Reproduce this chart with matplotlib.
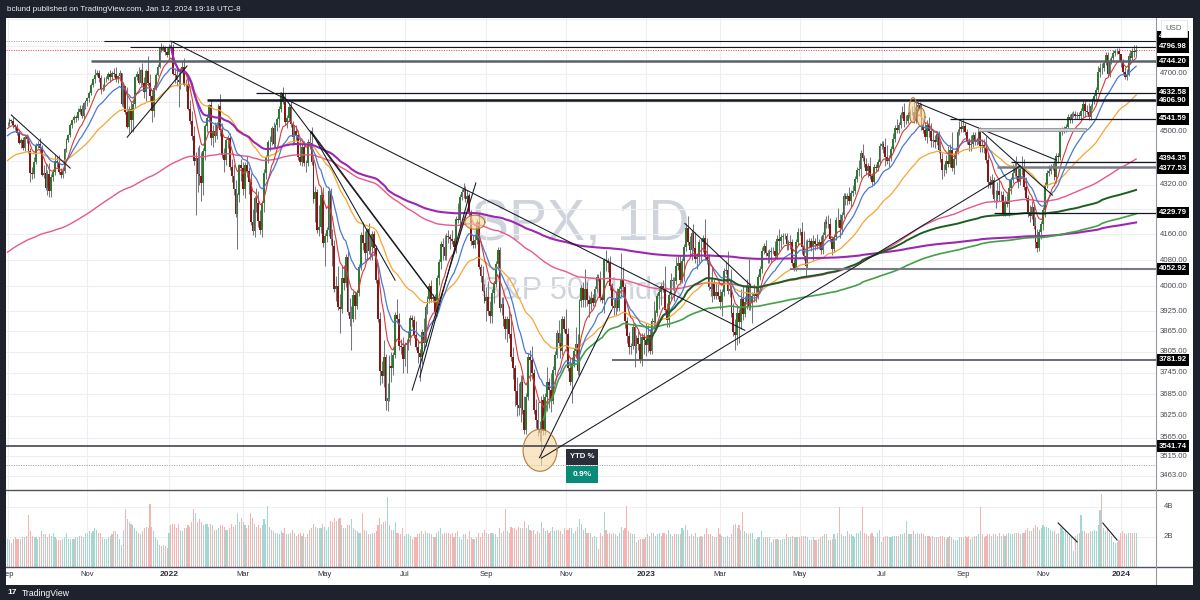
import numpy as np
import matplotlib.pyplot as plt
from matplotlib.patches import Rectangle
from matplotlib.ticker import FixedLocator, NullLocator
from matplotlib.transforms import offset_copy

plt.rcParams['font.family'] = ['Liberation Sans', 'DejaVu Sans']

# SPX daily closes, one row per month (Sep 2021 .. Jan 12 2024)
close_2021 = [
    4524, 4537, 4535, 4520, 4514, 4493, 4459, 4469, 4443, 4481, 4473, 4433, 4358, 4355, 4395, 4449, 4455, 4443, 4353, 4360, 4308,
    4357, 4300, 4346, 4363, 4400, 4391, 4361, 4351, 4364, 4438, 4471, 4486, 4520, 4537, 4549, 4545, 4567, 4575, 4551, 4597, 4605,
    4614, 4631, 4660, 4680, 4697, 4702, 4686, 4647, 4650, 4683, 4683, 4701, 4689, 4704, 4698, 4683, 4691, 4702, 4595, 4655, 4567,
    4513, 4577, 4538, 4592, 4687, 4701, 4668, 4712, 4669, 4635, 4710, 4669, 4621, 4568, 4649, 4697, 4726, 4792, 4786, 4793, 4778, 4766,
]
close_2022 = [
    4797, 4794, 4701, 4696, 4677, 4670, 4713, 4726, 4659, 4663, 4577, 4533, 4483, 4398, 4410, 4357, 4350, 4327, 4432, 4516,
    4546, 4589, 4477, 4501, 4484, 4522, 4587, 4504, 4419, 4402, 4471, 4475, 4380, 4349, 4305, 4226, 4288, 4385, 4374,
    4306, 4387, 4364, 4329, 4201, 4171, 4278, 4260, 4204, 4173, 4262, 4358, 4412, 4463, 4461, 4512, 4456, 4520, 4543, 4576, 4632, 4602, 4530,
    4546, 4583, 4525, 4481, 4500, 4488, 4413, 4397, 4447, 4392, 4391, 4462, 4460, 4394, 4272, 4296, 4175, 4184, 4288, 4132,
    4155, 4175, 4300, 4147, 4123, 3991, 4001, 3936, 3930, 4024, 4008, 4089, 3923, 3901, 3901, 3974, 3941, 3979, 4058, 4158, 4132,
    4101, 4177, 4109, 4121, 4161, 4116, 4018, 3901, 3750, 3735, 3790, 3667, 3675, 3765, 3760, 3796, 3912, 3900, 3821, 3819, 3785,
    3825, 3831, 3845, 3903, 3899, 3855, 3819, 3802, 3790, 3863, 3831, 3937, 3960, 3999, 3962, 3967, 3921, 4024, 4073, 4130,
    4119, 4091, 4155, 4152, 4145, 4140, 4122, 4210, 4207, 4280, 4297, 4305, 4274, 4284, 4228, 4138, 4128, 4141, 4199, 4058, 4031, 3986, 3955,
    3967, 3924, 3909, 3980, 4006, 4067, 4110, 3933, 3946, 3901, 3873, 3900, 3856, 3790, 3758, 3693, 3655, 3647, 3720, 3640, 3586,
    3678, 3791, 3783, 3745, 3640, 3612, 3589, 3577, 3669, 3583, 3677, 3720, 3695, 3666, 3753, 3797, 3859, 3831, 3807, 3901, 3872,
    3856, 3760, 3720, 3771, 3807, 3828, 3749, 3956, 3993, 3957, 3992, 3959, 3947, 3965, 3950, 3991, 4027, 4026, 3964, 3958, 4080,
    4077, 4072, 3999, 3941, 3933, 3964, 3934, 3991, 4019, 3996, 3896, 3852, 3818, 3822, 3879, 3822, 3845, 3829, 3783, 3849, 3840,
]
close_2023 = [
    3824, 3853, 3808, 3895, 3893, 3919, 3970, 3983, 3999, 3991, 3929, 3899, 3972, 4019, 4017, 4016, 4060, 4071, 4018, 4077,
    4119, 4180, 4136, 4111, 4164, 4118, 4082, 4090, 4137, 4136, 4148, 4090, 4079, 3997, 3991, 4012, 3970, 3982, 3970,
    3951, 3981, 4046, 4048, 3986, 3992, 3918, 3862, 3855, 3920, 3892, 3960, 3917, 3951, 4002, 3937, 3948, 3971, 3977, 3971, 4028, 4051, 4109,
    4124, 4101, 4091, 4105, 4109, 4108, 4092, 4147, 4138, 4151, 4155, 4155, 4130, 4133, 4137, 4072, 4056, 4136, 4169,
    4168, 4120, 4091, 4061, 4136, 4138, 4119, 4138, 4130, 4124, 4136, 4110, 4158, 4198, 4192, 4193, 4146, 4115, 4151, 4205, 4206, 4180,
    4221, 4282, 4273, 4284, 4268, 4294, 4299, 4338, 4369, 4373, 4426, 4410, 4389, 4366, 4381, 4348, 4328, 4378, 4376, 4397, 4450,
    4456, 4447, 4412, 4399, 4410, 4439, 4472, 4510, 4505, 4522, 4555, 4566, 4535, 4536, 4554, 4567, 4566, 4537, 4582, 4589,
    4577, 4513, 4502, 4478, 4519, 4499, 4467, 4468, 4464, 4489, 4437, 4404, 4370, 4370, 4399, 4388, 4436, 4376, 4406, 4433, 4498, 4515, 4508,
    4516, 4497, 4465, 4451, 4457, 4487, 4462, 4467, 4505, 4450, 4454, 4444, 4402, 4330, 4320, 4337, 4274, 4274, 4300, 4288,
    4288, 4229, 4263, 4258, 4309, 4336, 4358, 4377, 4349, 4328, 4373, 4374, 4314, 4278, 4224, 4218, 4248, 4186, 4137, 4117, 4167, 4194,
    4237, 4318, 4358, 4366, 4378, 4383, 4347, 4415, 4411, 4496, 4503, 4508, 4514, 4547, 4538, 4557, 4559, 4550, 4555, 4551, 4568,
    4595, 4569, 4567, 4549, 4585, 4604, 4622, 4644, 4707, 4720, 4719, 4740, 4768, 4698, 4746, 4755, 4775, 4781, 4783, 4770,
]
close_2024 = [4743, 4705, 4689, 4697, 4764, 4756, 4783, 4780, 4784]
prev_close = 4523  # Aug 31 2021, first open

# wick above / below the candle body (points)
up_2021 = [
    6, 8, 5, 12, 4, 10, 15, 7, 12, 6, 9, 14, 8, 22, 18, 9, 12, 20, 10, 25, 30,
    12, 35, 10, 8, 22, 15, 28, 16, 12, 5, 6, 4, 8, 6, 5, 6, 12, 15, 14, 4, 3,
    5, 8, 6, 5, 21, 12, 10, 8, 12, 4, 8, 5, 14, 6, 16, 25, 6, 10, 0, 17, 0,
    86, 8, 28, 16, 5, 8, 24, 4, 25, 18, 6, 55, 30, 20, 10, 6, 10, 4, 18, 12, 8, 20,
]
dn_2021 = [
    5, 8, 6, 10, 12, 6, 4, 18, 9, 10, 15, 6, 28, 15, 12, 6, 8, 18, 4, 10, 5,
    22, 21, 20, 15, 10, 12, 6, 10, 8, 6, 8, 10, 5, 8, 10, 14, 6, 8, 5, 10, 20,
    18, 12, 6, 8, 12, 6, 15, 18, 8, 6, 12, 6, 18, 12, 8, 12, 16, 8, 9, 12, 7,
    3, 18, 42, 40, 12, 10, 5, 10, 8, 20, 30, 12, 18, 37, 20, 5, 5, 6, 6, 5, 12, 6,
]
up_2022 = [
    10, 22, 12, 20, 25, 30, 8, 20, 30, 18, 32, 30, 35, 35, 20, 35, 96, 78, 10, 8,
    10, 6, 20, 18, 30, 6, 8, 40, 25, 25, 4, 10, 20, 25, 40, 30, 6, 5, 20,
    20, 10, 30, 15, 30, 40, 6, 30, 40, 35, 6, 15, 6, 5, 20, 5, 20, 5, 6, 10, 5, 20, 30,
    10, 10, 20, 10, 20, 20, 15, 60, 10, 20, 10, 10, 40, 53, 10, 20, 10, 70, 20, 25,
    10, 10, 8, 8, 30, 20, 30, 60, 40, 40, 40, 10, 20, 40, 40, 10, 10, 10, 10, 10, 40,
    40, 5, 20, 40, 10, 10, 10, 10, 20, 30, 50, 10, 40, 30, 40, 10, 10, 50, 20, 20, 30,
    10, 10, 20, 10, 10, 10, 40, 20, 10, 10, 40, 10, 10, 10, 20, 10, 10, 10, 10, 10,
    20, 40, 10, 20, 10, 30, 10, 10, 50, 10, 10, 20, 10, 20, 10, 10, 20, 20, 10, 30, 10, 30, 20,
    30, 50, 30, 10, 10, 10, 10, 10, 20, 20, 10, 10, 40, 60, 30, 10, 40, 60, 20, 20, 40,
    10, 10, 20, 40, 10, 30, 50, 20, 10, 17, 10, 42, 10, 50, 10, 10, 10, 40, 30, 10, 10,
    60, 20, 30, 20, 10, 50, 30, 5, 10, 20, 60, 20, 10, 20, 10, 10, 10, 10, 20, 10, 5,
    30, 10, 20, 10, 20, 20, 30, 10, 82, 40, 10, 10, 10, 10, 10, 10, 10, 20, 30, 10, 10,
]
dn_2022 = [
    12, 12, 4, 30, 20, 88, 25, 10, 4, 20, 5, 10, 12, 12, 176, 60, 30, 60, 40, 30,
    20, 15, 25, 30, 20, 10, 5, 20, 10, 40, 15, 30, 10, 20, 18, 10, 111, 25, 40,
    20, 30, 20, 40, 10, 14, 20, 30, 20, 12, 20, 30, 20, 20, 30, 10, 10, 15, 20, 30, 10, 10, 10,
    20, 10, 10, 30, 25, 20, 10, 10, 15, 10, 30, 10, 20, 10, 10, 72, 10, 20, 20, 10,
    70, 20, 20, 20, 60, 10, 37, 8, 71, 10, 20, 10, 10, 20, 91, 10, 40, 10, 10, 10, 20,
    20, 20, 10, 30, 40, 20, 10, 10, 40, 20, 30, 27, 30, 10, 40, 20, 10, 10, 10, 20, 40,
    20, 81, 20, 20, 20, 10, 10, 30, 68, 20, 20, 10, 20, 10, 10, 10, 10, 10, 20, 20,
    40, 10, 10, 20, 30, 10, 10, 20, 10, 20, 10, 20, 10, 10, 10, 10, 10, 10, 10, 5, 20, 5, 5,
    60, 10, 20, 20, 30, 10, 10, 10, 20, 20, 30, 40, 10, 10, 30, 40, 30, 20, 40, 10, 10,
    10, 10, 60, 10, 10, 20, 20, 20, 86, 10, 10, 40, 50, 30, 9, 13, 10, 10, 20, 10, 10,
    40, 10, 10, 60, 10, 20, 10, 10, 20, 20, 20, 20, 40, 20, 10, 10, 10, 10, 10, 10, 40,
    30, 30, 10, 10, 20, 20, 10, 10, 20, 30, 20, 20, 20, 20, 10, 60, 20, 20, 10, 20, 40,
]
up_2023 = [
    50, 30, 20, 10, 60, 10, 10, 10, 10, 20, 70, 20, 10, 20, 10, 10, 30, 20, 20, 10,
    10, 15, 40, 20, 10, 30, 50, 10, 10, 10, 10, 60, 60, 20, 30, 50, 10, 30, 30,
    20, 10, 10, 30, 60, 30, 60, 30, 40, 20, 10, 30, 40, 20, 20, 80, 60, 10, 30, 20, 10, 10, 10,
    10, 20, 10, 10, 10, 10, 30, 10, 30, 10, 10, 10, 10, 10, 20, 10, 10, 10, 10,
    10, 30, 50, 50, 10, 10, 10, 20, 10, 30, 10, 20, 10, 10, 20, 30, 20, 10, 10, 10, 40, 20,
    10, 10, 10, 10, 30, 10, 20, 10, 10, 30, 10, 30, 10, 20, 10, 30, 10, 10, 10, 10, 10,
    10, 10, 30, 40, 10, 10, 20, 10, 30, 10, 10, 20, 30, 20, 10, 10, 20, 41, 10, 10,
    10, 20, 30, 30, 20, 30, 30, 40, 20, 10, 10, 30, 20, 20, 20, 50, 20, 60, 20, 10, 10, 20, 20,
    30, 10, 10, 10, 30, 10, 10, 10, 10, 10, 20, 20, 40, 20, 20, 20, 10, 30, 30, 40,
    10, 10, 20, 30, 30, 10, 30, 20, 40, 40, 10, 40, 30, 30, 10, 30, 20, 10, 30, 40, 10, 10,
    10, 10, 10, 20, 10, 10, 20, 10, 10, 10, 10, 10, 10, 10, 10, 10, 10, 10, 10, 10, 10,
    10, 10, 20, 30, 10, 10, 10, 10, 20, 20, 20, 10, 10, 10, 10, 10, 10, 10, 10, 10,
]
dn_2023 = [
    30, 20, 10, 10, 20, 20, 10, 40, 40, 10, 10, 20, 20, 10, 30, 60, 10, 10, 10, 10,
    60, 10, 10, 20, 30, 10, 10, 30, 20, 60, 30, 10, 10, 10, 20, 40, 10, 10, 10,
    20, 40, 10, 10, 10, 20, 10, 10, 46, 30, 60, 20, 20, 10, 20, 10, 10, 60, 20, 20, 10, 10, 10,
    10, 10, 20, 20, 30, 10, 10, 10, 30, 20, 20, 10, 20, 20, 20, 10, 10, 10, 10,
    10, 20, 10, 30, 10, 20, 10, 40, 20, 10, 10, 10, 10, 10, 10, 10, 10, 20, 10, 10, 20, 30,
    20, 10, 20, 20, 10, 20, 10, 10, 10, 20, 30, 10, 10, 10, 20, 10, 10, 10, 10, 10, 10,
    10, 20, 30, 10, 20, 10, 10, 10, 10, 10, 10, 10, 20, 10, 10, 10, 10, 10, 10, 10,
    20, 10, 10, 10, 20, 20, 20, 20, 20, 10, 10, 10, 30, 20, 10, 10, 10, 10, 20, 20, 10, 10, 10,
    10, 10, 10, 20, 20, 10, 10, 10, 10, 20, 20, 20, 10, 20, 10, 30, 10, 30, 10, 20,
    20, 10, 10, 10, 40, 20, 10, 10, 10, 20, 10, 20, 10, 10, 10, 20, 10, 10, 20, 13, 10, 20,
    20, 20, 10, 10, 10, 10, 10, 20, 20, 10, 10, 10, 10, 10, 10, 10, 10, 10, 10, 10, 10,
    20, 20, 10, 10, 10, 10, 10, 10, 10, 20, 20, 10, 10, 10, 10, 10, 10, 10, 10, 20,
]
up_2024 = [0, 10, 20, 20, 10, 20, 10, 20, 20]
dn_2024 = [20, 6, 6, 10, 5, 20, 10, 20, 20]

# volume, billions
vol_2021 = [
    1.9, 1.8, 1.6, 1.9, 2.0, 1.9, 1.9, 1.9, 2.0, 2.0, 2.1, 3.5, 2.4, 2.1, 2.0, 2.0, 1.9, 2.0, 2.4, 2.2, 2.2,
    2.0, 2.2, 2.1, 2.3, 2.0, 1.9, 1.8, 1.8, 1.9, 2.0, 2.3, 1.9, 1.9, 1.9, 1.9, 2.0, 2.0, 2.1, 2.1, 2.0, 2.3,
    2.3, 2.4, 2.3, 2.4, 2.6, 2.5, 2.3, 2.3, 2.0, 1.9, 1.9, 2.0, 2.1, 2.2, 2.4, 2.4, 2.2, 1.9, 1.5, 2.5, 3.9,
    3.2, 3.0, 2.9, 2.8, 2.6, 2.4, 2.3, 2.2, 2.4, 2.6, 2.7, 2.6, 4.2, 2.7, 2.4, 2.0, 1.8, 1.5, 1.4, 1.5, 1.4, 1.3,
]
vol_2022 = [
    2.3, 2.8, 2.9, 2.9, 2.6, 2.9, 2.5, 2.4, 2.6, 2.6, 2.8, 2.7, 3.0, 3.9, 3.6, 3.0, 3.2, 3.0, 2.8, 2.9,
    2.9, 2.7, 2.9, 2.8, 2.5, 2.5, 2.6, 2.8, 2.8, 2.7, 2.5, 2.5, 2.6, 2.9, 2.7, 2.8, 3.6, 3.0, 3.3,
    3.0, 2.8, 2.6, 2.8, 3.6, 3.3, 2.9, 2.7, 2.8, 2.6, 2.8, 3.2, 2.9, 4.1, 2.7, 2.5, 2.4, 2.3, 2.3, 2.2, 2.4, 2.3, 2.6,
    2.2, 2.2, 2.3, 2.5, 2.3, 2.1, 2.2, 2.3, 2.1, 2.3, 2.0, 2.2, 2.5, 2.6, 2.9, 2.7, 2.6, 2.6, 2.6, 2.9,
    2.7, 2.5, 2.7, 3.1, 3.0, 3.3, 3.1, 3.2, 3.3, 2.8, 2.6, 2.6, 2.8, 2.8, 3.2, 2.6, 2.5, 2.4, 2.3, 2.3, 3.6,
    2.5, 2.4, 2.2, 2.2, 2.3, 2.3, 2.4, 2.8, 3.3, 2.9, 3.0, 3.1, 4.7, 2.8, 2.5, 2.5, 3.0, 2.3, 2.3, 2.2, 2.6,
    2.1, 2.2, 2.2, 2.1, 1.9, 2.0, 2.0, 2.2, 2.3, 2.4, 2.2, 2.4, 2.3, 2.3, 2.2, 2.0, 2.0, 2.3, 2.4, 2.6,
    2.2, 2.3, 2.3, 2.3, 2.2, 2.3, 2.0, 2.3, 2.4, 2.0, 1.9, 2.2, 2.2, 1.9, 2.4, 2.0, 1.9, 1.9, 2.0, 2.3, 2.0, 2.3, 2.5,
    2.3, 2.2, 2.3, 2.3, 2.2, 2.2, 2.0, 2.6, 2.3, 2.4, 3.9, 2.4, 2.3, 2.7, 2.6, 2.6, 2.5, 2.7, 2.6, 2.6, 3.1,
    2.6, 2.8, 2.5, 2.4, 2.5, 2.2, 2.4, 2.3, 3.0, 2.6, 2.4, 2.5, 2.3, 2.4, 2.7, 2.4, 2.5, 2.5, 2.4, 2.2, 2.6,
    2.5, 2.5, 2.6, 2.6, 2.3, 2.4, 2.7, 3.2, 2.9, 2.5, 2.6, 2.3, 2.3, 2.3, 2.0, 2.1, 2.0, 1.2, 2.3, 2.1, 3.7,
    2.5, 2.2, 2.3, 2.2, 2.3, 2.2, 2.1, 2.3, 2.7, 2.5, 2.6, 4.1, 2.4, 2.3, 2.2, 2.2, 1.7, 1.8, 1.9, 1.9, 1.9,
]
vol_2023 = [
    2.0, 2.2, 2.1, 2.3, 2.3, 2.1, 2.2, 2.3, 2.1, 2.3, 2.3, 2.2, 2.5, 2.2, 2.1, 2.2, 2.2, 2.2, 2.2, 2.6,
    2.5, 2.8, 2.5, 2.1, 2.2, 2.1, 2.3, 2.0, 2.0, 2.1, 2.0, 2.2, 2.6, 2.2, 2.2, 2.1, 2.0, 2.0, 2.6,
    2.2, 2.1, 2.0, 2.0, 2.1, 2.0, 2.2, 2.8, 2.9, 2.6, 2.8, 2.5, 3.7, 2.4, 2.3, 2.2, 2.3, 2.3, 1.9, 1.9, 2.0, 2.0, 2.4,
    2.0, 2.0, 2.0, 2.0, 1.7, 1.9, 1.9, 1.9, 1.8, 1.8, 1.9, 1.9, 2.2, 2.0, 2.0, 2.1, 2.0, 2.0, 2.0,
    2.0, 2.1, 2.1, 2.1, 2.0, 1.8, 1.8, 2.0, 1.8, 1.8, 1.9, 2.0, 2.1, 2.2, 2.2, 1.8, 1.8, 1.9, 2.2, 1.9, 2.3, 4.0,
    2.2, 2.1, 2.1, 2.4, 2.2, 2.2, 2.1, 2.0, 2.3, 2.3, 2.4, 4.0, 2.3, 2.2, 2.1, 2.2, 2.3, 2.1, 2.0, 2.3, 2.5,
    1.7, 2.0, 2.1, 2.1, 2.0, 2.0, 2.1, 2.1, 2.1, 2.1, 2.2, 2.2, 2.3, 3.1, 2.2, 2.2, 2.2, 2.4, 2.2, 2.3,
    2.2, 2.3, 2.2, 2.1, 2.1, 2.1, 2.0, 2.1, 2.0, 2.0, 2.0, 2.1, 2.1, 2.0, 1.9, 2.0, 2.1, 2.0, 1.9, 1.8, 1.8, 2.0, 2.0,
    2.0, 2.1, 2.0, 2.1, 1.9, 2.0, 2.1, 2.1, 2.2, 4.0, 2.2, 2.0, 2.1, 2.2, 2.2, 2.1, 2.2, 2.2, 2.1, 2.3,
    2.1, 2.2, 2.1, 2.2, 2.3, 2.2, 2.2, 2.3, 2.3, 2.3, 2.2, 2.3, 2.3, 2.5, 2.6, 2.4, 2.4, 2.6, 2.8, 2.7, 2.5, 2.6,
    2.8, 2.7, 2.7, 2.6, 2.5, 2.4, 2.4, 2.2, 2.3, 2.7, 2.6, 2.4, 2.5, 2.2, 2.1, 2.0, 1.1, 2.1, 2.2, 2.3, 3.5,
    2.4, 2.4, 2.3, 2.3, 2.4, 2.4, 2.5, 2.4, 2.8, 3.8, 4.9, 2.6, 2.4, 2.6, 2.3, 2.1, 1.7, 1.6, 1.7, 1.8,
]
vol_2024 = [2.3, 2.4, 2.3, 2.2, 2.3, 2.3, 2.3, 2.3, 2.3]

# first trading day of labelled months (bar index) and labels
month_idx = [0, 42, 85, 124, 167, 209, 252, 294, 336, 375, 417, 460, 503, 545, 586]
month_lbl = ['Sep', 'Nov', '2022', 'Mar', 'May', 'Jul', 'Sep', 'Nov', '2023', 'Mar', 'May', 'Jul', 'Sep', 'Nov', '2024']

price_ticks = [4700, 4500, 4320, 4160, 4080, 4000, 3925, 3865, 3805, 3745, 3685, 3625, 3565, 3515, 3463]
grid_prices = [4900, 4800, 4700, 4600, 4500, 4400, 4320, 4240, 4160, 4080, 4000, 3925, 3865,
               3805, 3745, 3685, 3625, 3565, 3515, 3463]

# horizontal level drawings: price, first bar, width, colour, label nudge (px)
levels = [4818.62, 4796.98, 4744.20, 4632.58, 4606.90, 4541.59, 4394.35, 4377.53, 4229.79, 4052.92, 3781.92, 3541.74]
level_start = [51, 64.5, 44, 131, 105, 496, 528, 521, 519, 412, 318, -1]
level_lw = [0.8, 0.8, 1.8, 0.9, 1.8, 0.9, 0.9, 1.8, 0.9, 1.5, 1.3, 1.2]
level_col = ['#131722', '#131722', '#5d606b', '#131722', '#131722', '#131722', '#131722', '#787b86',
             '#131722', '#787b86', '#5d606b', '#434651']
label_nudge = [4, 0, 0, 0, 0, 0, 4, -1, 0, 0, 0, 0]

# trend line drawings (bar, price) -> (bar, price)
trend_lines = [
    ((2, 4555), (33, 4375)),
    ((86, 4818), (388, 3868)),
    ((63, 4479), (94.5, 4728)),
    ((144, 4632), (225, 3964)),
    ((160, 4497), (222, 3988)),
    ((160, 4497), (204, 4018)),
    ((213, 3696), (246.5, 4326)),
    ((217, 3733), (243, 4286)),
    ((356.5, 4195), (391, 4003)),
    ((281, 3510), (533, 4382)),
    ((280, 3511), (318, 3928)),
    ((478, 4600), (552, 4402)),
    ((512, 4503), (550, 4286)),
]
vol_lines = [((553, 2.93), (563, 1.67)), ((576.5, 2.93), (584, 1.8))]
# ellipse marks: bar, price, width px, height px
circles = [(246, 4199, 20, 14), (280.3, 3531, 34, 42), (476.6, 4572, 8, 25), (480.8, 4548, 8, 18)]

# ---------------------------------------------------------------------------
close = np.array(close_2021 + close_2022 + close_2023 + close_2024, dtype=float)
up = np.array(up_2021 + up_2022 + up_2023 + up_2024, dtype=float)
dn = np.array(dn_2021 + dn_2022 + dn_2023 + dn_2024, dtype=float)
vol = np.array(vol_2021 + vol_2022 + vol_2023 + vol_2024, dtype=float)
assert len(close) == len(up) == len(dn) == len(vol) == 595, (len(close), len(up), len(dn), len(vol))

n = len(close)
idx = np.arange(n)
opn = np.r_[prev_close, close[:-1]]
high = np.maximum(opn, close) + up
low = np.minimum(opn, close) - dn
rising = close >= opn


def ema(values, span, seed):
    a = 2.0 / (span + 1)
    out = np.empty(len(values))
    prev = seed
    for i, v in enumerate(values):
        prev = prev + a * (v - prev)
        out[i] = prev
    return out


def avwap(start):
    tp = (high + low + close) / 3
    w = vol[start:]
    return idx[start:], np.cumsum(tp[start:] * w) / np.cumsum(w)


W, H = 1200, 600


def box(x0, y0, x1, y1):
    return [x0 / W, 1 - y1 / H, (x1 - x0) / W, (y1 - y0) / H]


BG = '#1e222d'
fig = plt.figure(figsize=(12, 6), dpi=100, facecolor=BG)
fig.patches.append(Rectangle((6 / W, 1 - 585 / H), 1187 / W, 567 / H, transform=fig.transFigure,
                             fc='white', ec='none', zorder=-5))

ax = fig.add_axes(box(6, 18, 1156, 490))
axv = fig.add_axes(box(6, 490, 1156, 567), sharex=ax)

ax.set_yscale('log')
ax.set_xlim(-1.5 / 1.9, (1156 - 7.5) / 1.9)
ax.set_ylim(3426, 4903.5)
for a in (ax, axv):
    for s in a.spines.values():
        s.set_visible(False)
    a.set_facecolor('white')

ax.yaxis.set_major_locator(FixedLocator(grid_prices))
ax.yaxis.set_minor_locator(NullLocator())
ax.set_xticks(month_idx)
ax.tick_params(length=0, labelleft=False, labelbottom=False, labelright=False)
ax.grid(True, color='#eeeff2', lw=0.8, zorder=0)
ax.set_axisbelow(True)

# watermark
ax.text(580 / W, 1 - 226 / H, 'SPX, 1D', transform=fig.transFigure, ha='center', va='center',
        fontsize=41, color='#cfd3dc', zorder=0.5)
ax.text(583 / W, 1 - 291 / H, 'S&P 500 Index', transform=fig.transFigure, ha='center', va='center',
        fontsize=22, color='#cfd3dc', zorder=0.5)

# moving averages and anchored vwaps
ax.plot(idx, ema(close, 200, 4100), color='#e8578c', lw=1.0, zorder=3)
ax.plot(idx, ema(close, 50, 4395), color='#f7a531', lw=0.9, zorder=3)
ax.plot(idx, ema(close, 20, 4480), color='#4a78d0', lw=0.9, zorder=3)
ax.plot(idx, ema(close, 10, 4505), color='#d83a3a', lw=0.8, zorder=3)
ax.plot(*avwap(86), color='#9c27b0', lw=1.5, zorder=3)
ax.plot(*avwap(282), color='#43a047', lw=1.2, zorder=3)
ax.plot(*avwap(336), color='#1b5e20', lw=1.4, zorder=3)

# candles
ax.vlines(idx, low, high, color='#75787f', lw=0.75, zorder=2)
ax.bar(idx, np.abs(close - opn), bottom=np.minimum(opn, close), width=0.85,
       color=np.where(rising, '#2b7a2f', '#861717'), edgecolor='none', zorder=2.5)

# range / last price lines
ax.axhline(high.max(), color='#9598a1', lw=0.7, ls=(0, (1, 1.5)), zorder=1)
ax.axhline(low.min(), color='#9598a1', lw=0.7, ls=(0, (1, 1.5)), zorder=1)
ax.axhline(close[-1], color='#f23645', lw=0.7, ls=(0, (1, 1.5)), zorder=1)

# drawings
for p, s, lw, c in zip(levels, level_start, level_lw, level_col):
    ax.hlines(p, s, 700, color=c, lw=lw, zorder=4)
for (b0, p0), (b1, p1) in trend_lines:
    ax.plot([b0, b1], [p0, p1], color='#131722', lw=0.75, zorder=4)
ax.add_patch(Rectangle((511, 4499), 56.6, 11, fc='#cfd0d4', ec='#8a8d93', lw=0.6, zorder=4))


def ellipse(bar, price, wpx, hpx):
    cx, cy = ax.transData.transform((bar, price))
    t = np.linspace(0, 2 * np.pi, 80)
    pts = np.c_[cx + wpx / 2 * np.cos(t), cy + hpx / 2 * np.sin(t)]
    d = ax.transData.inverted().transform(pts)
    ax.fill(d[:, 0], d[:, 1], fc='#f7d9a6', alpha=0.65, ec='none', zorder=3.5)
    ax.plot(d[:, 0], d[:, 1], color='#b3793a', lw=0.8, zorder=4)


for c in circles:
    ellipse(*c)

# price scale
ytr = ax.get_yaxis_transform()
for p in price_ticks:
    ax.text(1.003, p, f'{p:.2f}', transform=ytr, ha='left', va='center', fontsize=5.6,
            color='#4a4c55', clip_on=False, zorder=6)
for p, nudge in zip(levels, label_nudge):
    tr = offset_copy(ytr, fig=fig, y=nudge, units='dots')
    ax.text(1.0025, p, f'{p:.2f}', transform=tr, ha='left', va='center', fontsize=5.6,
            fontweight='bold', color='white', clip_on=False, zorder=7,
            bbox=dict(boxstyle='square,pad=0.3', fc='black', ec='none'))

# volume pane
axv.bar(idx, vol, width=0.6, color=np.where(rising, '#a3d8d1', '#f5b3b1'), edgecolor='none', zorder=2)
axv.set_ylim(0, 77 / 15)
axv.set_yticks([2, 4])
axv.grid(True, color='#eeeff2', lw=0.8, zorder=0)
axv.set_axisbelow(True)
axv.set_xticks(month_idx)
axv.set_xticklabels(month_lbl)
axv.tick_params(axis='x', length=0, pad=3.2, labelsize=5.4, labelcolor='#2a2e39')
axv.tick_params(axis='y', length=0, labelleft=False)
for lbl in axv.get_xticklabels():
    if lbl.get_text().isdigit():
        lbl.set_fontweight('bold')
        lbl.set_fontsize(6.0)
for (b0, v0), (b1, v1) in vol_lines:
    axv.plot([b0, b1], [v0, v1], color='#131722', lw=0.8, zorder=4)
vtr = axv.get_yaxis_transform()
for v in (2, 4):
    axv.text(1.007, v, f'{v}B', transform=vtr, ha='left', va='center', fontsize=5.6,
             color='#4a4c55', clip_on=False)

# frame lines
for y in (490, 567):
    fig.add_artist(plt.Line2D([6 / W, 1193 / W], [1 - y / H] * 2, color='#50535e', lw=1.0, zorder=8))
fig.add_artist(plt.Line2D([1156 / W] * 2, [1 - 18 / H, 1 - 585 / H], color='#9598a1', lw=0.8, zorder=8))

# dark border, header, footer
fig.patches.append(Rectangle((0, 0), 6 / W, 1, transform=fig.transFigure, fc=BG, ec='none', zorder=20))
fig.patches.append(Rectangle((1193 / W, 0), 7 / W, 1, transform=fig.transFigure, fc=BG, ec='none', zorder=20))
fig.patches.append(Rectangle((0, 1 - 18 / H), 1, 18 / H, transform=fig.transFigure, fc=BG, ec='none', zorder=20))
fig.patches.append(Rectangle((0, 0), 1, 15 / H, transform=fig.transFigure, fc=BG, ec='none', zorder=20))
fig.text(7 / W, 1 - 9.5 / H, 'bclund published on TradingView.com, Jan 12, 2024 19:18 UTC-8',
         color='#f0f1f4', fontsize=5.8, ha='left', va='center', zorder=21)
fig.text(7 / W, 1 - 593 / H, '17', color='white', fontsize=6, fontweight='bold', ha='left', va='center', zorder=21)
fig.text(22 / W, 1 - 593 / H, 'TradingView', color='white', fontsize=6.2, ha='left', va='center', zorder=21)
fig.text(1174 / W, 1 - 28.5 / H, 'USD', color='#5d606b', fontsize=5.6, ha='center', va='center', zorder=21,
         bbox=dict(boxstyle='square,pad=0.6', fc='white', ec='#e0e3eb', lw=0.6))

# YTD badge
fig.patches.append(Rectangle((566 / W, 1 - 465 / H), 32 / W, 16 / H, transform=fig.transFigure,
                             fc='#2a2e39', ec='none', zorder=9))
fig.patches.append(Rectangle((566 / W, 1 - 483 / H), 32 / W, 17 / H, transform=fig.transFigure,
                             fc='#0a8a78', ec='none', zorder=9))
fig.text(582 / W, 1 - 457 / H, 'YTD %', color='white', fontsize=5.6, fontweight='bold', ha='center', va='center', zorder=10)
fig.text(582 / W, 1 - 474.5 / H, '0.9%', color='white', fontsize=6, fontweight='bold', ha='center', va='center', zorder=10)

fig.savefig('out.png', dpi=100, facecolor=BG)
